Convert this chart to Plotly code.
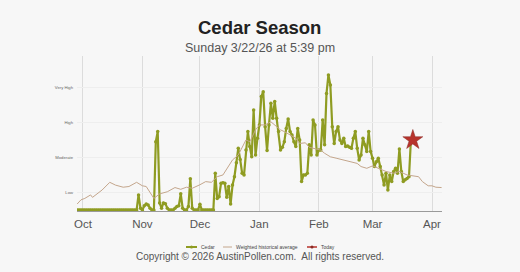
import pandas as pd
import plotly.graph_objects as go

# ---- data (levels: 0 none, 0.5 Low, 1.5 Moderate, 2.5 High, 3.5 Very High) ----
cedar_start = "2025-09-28"
cedar = (
    [0] * 32 +                                            # Sep 28 - Oct 29
    [0.43, 0.05, 0, 0.12, 0.17, 0.14, 0.05, 0, 0, 1.95,   # Oct 30 - Nov 8
     2.24, 0.2, 0.05, 0.2, 0.18, 0.05, 0, 0, 0, 0.05,
     0.1, 0.12, 0.46, 0.05, 0, 0, 0.1, 0.89, 0.05, 0,
     0, 0, 0.16, 0, 0, 0, 0, 0, 0, 0,
     1.05, 0.33, 0.38, 0.76, 0.78, 0.76, 0.36, 0.67, 0.17, 0.71,
     0.95, 1.35, 1.76, 1.44, 1.05, 1.0, 1.71, 2.24, 1.81, 1.52,
     2.86, 1.57, 2.05, 2.43, 3.24, 3.38, 2.38, 1.7, 2.43, 3.05,
     2.62, 3.1, 2.62, 2.24, 1.71, 1.79, 1.95, 2.33, 2.6, 2.24,
     2.14, 1.95, 1.81, 2.33, 2.0, 0.81, 1.0, 1.0, 1.05, 1.86,
     1.57, 2.57, 2.43, 1.57, 1.71, 1.71, 2.57, 1.86, 3.33, 3.86,
     3.57, 2.38, 1.9, 2.24, 2.38, 2.0, 1.9, 2.05, 1.81, 1.83,
     1.79, 1.76, 2.05, 2.24, 1.76, 1.43, 1.57, 2.05, 1.86, 1.67,
     2.24, 1.67, 1.48, 1.24, 1.38, 1.48, 1.24, 1.0, 0.71, 1.05,
     0.57, 1.0, 0.81, 1.1, 1.19, 1.05, 1.74, 1.1, 0.81, 0.86,
     0.9, 0.95, 2.0]
)

hist_days = [-3, -1, 1, 4, 5, 8, 10, 14, 17, 21, 24, 28, 31, 33, 37, 40, 44, 48, 51, 54,
             57, 61, 64, 67, 70, 73, 76, 78, 81, 83, 85, 87, 90, 92, 95, 98, 100, 103, 105,
             108, 111, 113, 116, 118, 121, 124, 126, 129, 132, 136, 139, 143, 145, 148,
             151, 153, 156, 158, 162, 165, 169, 172, 175, 177, 180, 182, 184, 187]
hist_vals = [0.17, 0.29, 0.33, 0.43, 0.36, 0.48, 0.57, 0.79, 0.71, 0.65, 0.67, 0.79, 0.69,
             0.67, 0.33, 0.46, 0.52, 0.64, 0.59, 0.65, 0.62, 0.72, 0.81, 0.79, 0.95, 1.0,
             1.24, 1.43, 1.57, 1.81, 2.0, 1.95, 2.29, 2.43, 2.43, 2.52, 2.43, 2.29, 2.24,
             2.14, 2.05, 1.9, 1.92, 1.79, 1.76, 1.71, 1.62, 1.52, 1.48, 1.43, 1.38, 1.33,
             1.24, 1.19, 1.26, 1.22, 1.14, 1.1, 1.05, 1.1, 1.0, 0.97, 0.95, 0.81, 0.69,
             0.69, 0.65, 0.64]
hist_origin = "2025-10-01"

today_date = ["2026-03-22"]
today_val = [2.0]

level_vals = [0.5, 1.5, 2.5, 3.5]
level_text = ["Low", "Moderate", "High", "Very High"]
month_ticks = ["2025-10-01", "2025-11-01", "2025-12-01", "2026-01-01",
               "2026-02-01", "2026-03-01", "2026-04-01"]
month_text = ["Oct", "Nov", "Dec", "Jan", "Feb", "Mar", "Apr"]
series_names = ["Cedar", "Weighted historical average", "Today"]

title = "Cedar Season"
subtitle = "Sunday 3/22/26 at 5:39 pm"
copyright_text = "Copyright © 2026 AustinPollen.com.  All rights reserved."

# ---- build ----
cedar_dates = pd.date_range(cedar_start, periods=len(cedar), freq="D")
hist_dates = [pd.Timestamp(hist_origin) + pd.Timedelta(days=d) for d in hist_days]

GREEN = "#8f9c22"
TAN = "#c4a68c"
RED = "#b7332c"
BG = "#f7f7f7"
FONT = "Liberation Sans, Arial, sans-serif"
colors = [GREEN, TAN, RED]

W, H = 520, 272
ML, MR, MT, MB = 77, 78, 56, 61
PW, PH = W - ML - MR, H - MT - MB


def px(x):
    return (x - ML) / PW


def py(y):
    return (H - MB - y) / PH


fig = go.Figure()
fig.add_trace(go.Scatter(
    x=cedar_dates, y=cedar, name=series_names[0], mode="lines+markers",
    line=dict(color=GREEN, width=2.2),
    marker=dict(color=GREEN, size=3.5),
))
fig.add_trace(go.Scatter(
    x=hist_dates, y=hist_vals, name=series_names[1], mode="lines",
    line=dict(color=TAN, width=1),
))
fig.add_trace(go.Scatter(
    x=pd.to_datetime(today_date), y=today_val, name=series_names[2], mode="markers",
    marker=dict(symbol="star", size=15, color=RED,
                line=dict(color="#8a2a24", width=0.5)),
    cliponaxis=False,
))

fig.update_layout(
    width=W, height=H,
    margin=dict(l=ML, r=MR, t=MT, b=MB, autoexpand=False),
    paper_bgcolor=BG, plot_bgcolor=BG,
    font=dict(family=FONT, color="#555"),
    showlegend=False,
)
fig.update_xaxes(
    type="date",
    range=["2025-09-27 22:00", "2026-04-06 05:00"],
    tickvals=pd.to_datetime(month_ticks), ticktext=month_text,
    showgrid=True, gridcolor="#dcdcdc", gridwidth=1,
    showline=True, linecolor="#9a9a9a", linewidth=1,
    ticks="", tickfont=dict(size=11.5, color="#555", family=FONT),
    ticklabelstandoff=2,
    zeroline=False,
)
fig.update_yaxes(
    range=[-0.03, 4.4],
    tickvals=level_vals, ticktext=level_text,
    tickfont=dict(size=4.2, color="#666", family=FONT),
    showgrid=True, gridcolor="#eeeeee", gridwidth=0.5,
    zeroline=False, ticks="", ticklabelstandoff=3,
)

fig.add_annotation(text=f"<b>{title}</b>", xref="paper", yref="paper",
                   x=0.5, y=py(28), xanchor="center", yanchor="middle",
                   showarrow=False, font=dict(size=18.5, color="#222", family=FONT))
fig.add_annotation(text=subtitle, xref="paper", yref="paper",
                   x=0.5, y=py(48), xanchor="center", yanchor="middle",
                   showarrow=False, font=dict(size=12.5, color="#555", family=FONT))
fig.add_annotation(text=copyright_text, xref="paper", yref="paper",
                   x=0.5, y=py(256.5), xanchor="center", yanchor="middle",
                   showarrow=False, font=dict(size=10, color="#555", family=FONT))

# compact legend row (symbol + label for each series)
LEG_Y = 247
leg_sym_x = [(186, 197), (223, 232), (307, 317)]
leg_text_x = [199, 234, 319]
for i, name in enumerate(series_names):
    x0, x1 = leg_sym_x[i]
    fig.add_shape(type="line", xref="paper", yref="paper",
                  x0=px(x0), x1=px(x1), y0=py(LEG_Y), y1=py(LEG_Y),
                  line=dict(color=colors[i], width=2 if i == 0 else (1 if i == 1 else 1.5)))
    if i != 1:
        cx = (x0 + x1) / 2
        r = 1.5
        fig.add_shape(type="circle", xref="paper", yref="paper",
                      x0=px(cx - r), x1=px(cx + r), y0=py(LEG_Y + r), y1=py(LEG_Y - r),
                      fillcolor=colors[i] if i == 0 else "#8a2a24",
                      line=dict(width=0))
    fig.add_annotation(text=name, xref="paper", yref="paper",
                       x=px(leg_text_x[i]), y=py(LEG_Y), xanchor="left", yanchor="middle",
                       showarrow=False, font=dict(size=5, color="#444", family=FONT))

fig.write_html("out.html")
